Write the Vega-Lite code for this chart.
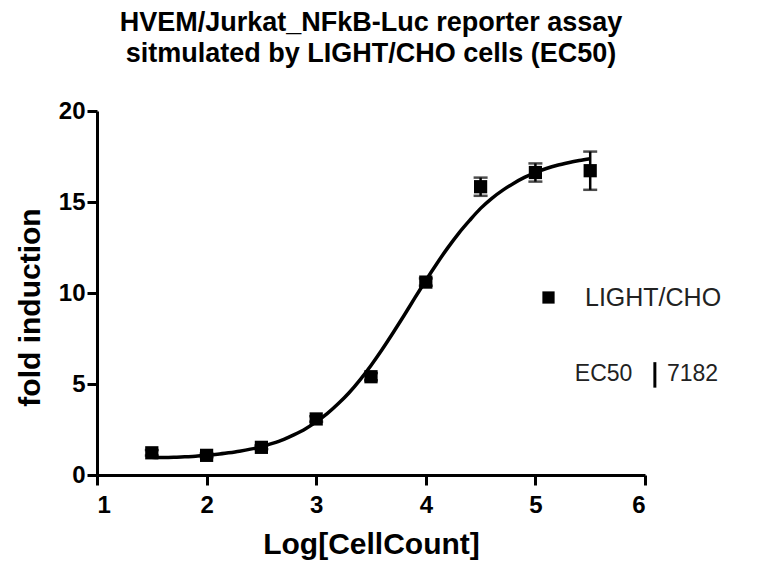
{
  "$schema": "https://vega.github.io/schema/vega-lite/v6.json",
  "width": 548,
  "height": 364,
  "autosize": {"type": "none"},
  "padding": {"left": 97, "top": 111, "right": 112, "bottom": 92},
  "background": "white",
  "title": {
    "text": ["HVEM/Jurkat_NFkB-Luc reporter assay", "sitmulated by LIGHT/CHO cells (EC50)"],
    "font": "Liberation Sans",
    "fontSize": 27,
    "fontWeight": "bold",
    "lineHeight": 31,
    "color": "black",
    "anchor": "middle",
    "offset": 31
  },
  "config": {
    "view": {"stroke": null},
    "axis": {
      "grid": false,
      "domainColor": "black",
      "domainWidth": 3,
      "tickColor": "black",
      "tickWidth": 3,
      "tickSize": 10,
      "labelFont": "Liberation Sans",
      "labelFontSize": 24,
      "labelFontWeight": "bold",
      "labelColor": "black",
      "titleFont": "Liberation Sans",
      "titleFontSize": 30,
      "titleFontWeight": "bold",
      "titleColor": "black"
    }
  },
  "datasets": {
    "points": [
      {"logCells": 1.5, "fold": 1.22, "err": 0.15, "series": "LIGHT/CHO"},
      {"logCells": 2.0, "fold": 1.08, "err": 0.1, "series": "LIGHT/CHO"},
      {"logCells": 2.5, "fold": 1.52, "err": 0.1, "series": "LIGHT/CHO"},
      {"logCells": 3.0, "fold": 3.08, "err": 0.15, "series": "LIGHT/CHO"},
      {"logCells": 3.5, "fold": 5.4, "err": 0.2, "series": "LIGHT/CHO"},
      {"logCells": 4.0, "fold": 10.6, "err": 0.2, "series": "LIGHT/CHO"},
      {"logCells": 4.5, "fold": 15.84, "err": 0.5, "series": "LIGHT/CHO"},
      {"logCells": 5.0, "fold": 16.62, "err": 0.5, "series": "LIGHT/CHO"},
      {"logCells": 5.5, "fold": 16.72, "err": 1.05, "series": "LIGHT/CHO"}
    ],
    "curve": [
      {"logCells": 1.5, "fit": 0.98},
      {"logCells": 1.6, "fit": 0.96},
      {"logCells": 1.7, "fit": 0.97},
      {"logCells": 1.8, "fit": 1.0},
      {"logCells": 1.9, "fit": 1.03},
      {"logCells": 2.0, "fit": 1.08},
      {"logCells": 2.1, "fit": 1.14},
      {"logCells": 2.2, "fit": 1.22},
      {"logCells": 2.3, "fit": 1.31},
      {"logCells": 2.4, "fit": 1.42},
      {"logCells": 2.5, "fit": 1.56},
      {"logCells": 2.6, "fit": 1.74},
      {"logCells": 2.7, "fit": 1.95},
      {"logCells": 2.8, "fit": 2.22},
      {"logCells": 2.9, "fit": 2.53},
      {"logCells": 3.0, "fit": 2.92},
      {"logCells": 3.1, "fit": 3.37},
      {"logCells": 3.2, "fit": 3.91},
      {"logCells": 3.3, "fit": 4.52},
      {"logCells": 3.4, "fit": 5.23},
      {"logCells": 3.5, "fit": 6.02},
      {"logCells": 3.6, "fit": 6.88},
      {"logCells": 3.7, "fit": 7.8},
      {"logCells": 3.8, "fit": 8.75},
      {"logCells": 3.9, "fit": 9.73},
      {"logCells": 4.0, "fit": 10.69},
      {"logCells": 4.1, "fit": 11.61},
      {"logCells": 4.2, "fit": 12.48},
      {"logCells": 4.3, "fit": 13.28},
      {"logCells": 4.4, "fit": 13.99},
      {"logCells": 4.5, "fit": 14.65},
      {"logCells": 4.6, "fit": 15.19},
      {"logCells": 4.7, "fit": 15.64},
      {"logCells": 4.8, "fit": 16.02},
      {"logCells": 4.9, "fit": 16.35},
      {"logCells": 5.0, "fit": 16.62},
      {"logCells": 5.1, "fit": 16.84},
      {"logCells": 5.2, "fit": 17.02},
      {"logCells": 5.3, "fit": 17.16},
      {"logCells": 5.4, "fit": 17.28},
      {"logCells": 5.5, "fit": 17.38}
    ],
    "ec50": [
      {"logCells": 5.36, "fold": 5.55, "label": "EC50"},
      {"logCells": 6.2, "fold": 5.55, "label": "7182"}
    ],
    "divider": [
      {"logCells": 6.09, "lo": 4.8, "hi": 6.2}
    ]
  },
  "layer": [
    {
      "data": {"name": "curve"},
      "mark": {"type": "line", "color": "black", "strokeWidth": 3.5, "interpolate": "monotone"},
      "encoding": {
        "x": {
          "field": "logCells",
          "type": "quantitative",
          "title": "Log[CellCount]",
          "scale": {"domain": [1, 6], "nice": false},
          "axis": {"values": [1, 2, 3, 4, 5, 6], "format": "d", "labelPadding": 8, "titlePadding": 12}
        },
        "y": {
          "field": "fit",
          "type": "quantitative",
          "title": "fold induction",
          "scale": {"domain": [0, 20], "nice": false},
          "axis": {"values": [0, 5, 10, 15, 20], "format": "d", "labelPadding": 2, "titlePadding": 13, "titleY": 196}
        }
      }
    },
    {
      "data": {"name": "points"},
      "mark": {"type": "errorbar", "color": "black", "thickness": 2.5, "ticks": {"size": 14, "thickness": 2.5}},
      "encoding": {
        "x": {"field": "logCells", "type": "quantitative", "title": "Log[CellCount]"},
        "y": {"field": "fold", "type": "quantitative", "title": "fold induction"},
        "yError": {"field": "err"}
      }
    },
    {
      "data": {"name": "points"},
      "mark": {"type": "point", "shape": "square", "filled": true, "size": 175, "opacity": 1},
      "encoding": {
        "x": {"field": "logCells", "type": "quantitative", "title": "Log[CellCount]"},
        "y": {"field": "fold", "type": "quantitative", "title": "fold induction"},
        "color": {
          "field": "series",
          "type": "nominal",
          "scale": {"range": ["black"]},
          "legend": {
            "title": null,
            "orient": "none",
            "legendX": 439,
            "legendY": 174,
            "symbolType": "square",
            "symbolSize": 150,
            "symbolFillColor": "black",
            "symbolStrokeWidth": 0,
            "labelFont": "Liberation Sans",
            "labelFontSize": 25,
            "labelColor": "#222",
            "labelOffset": 24
          }
        }
      }
    },
    {
      "data": {"name": "ec50"},
      "mark": {"type": "text", "align": "left", "baseline": "middle", "font": "Liberation Sans", "fontSize": 23, "color": "#222"},
      "encoding": {
        "x": {"field": "logCells", "type": "quantitative", "title": "Log[CellCount]"},
        "y": {"field": "fold", "type": "quantitative", "title": "fold induction"},
        "text": {"field": "label"}
      }
    },
    {
      "data": {"name": "divider"},
      "mark": {"type": "rule", "color": "black", "strokeWidth": 3},
      "encoding": {
        "x": {"field": "logCells", "type": "quantitative", "title": "Log[CellCount]"},
        "y": {"field": "lo", "type": "quantitative", "title": "fold induction"},
        "y2": {"field": "hi"}
      }
    }
  ]
}
